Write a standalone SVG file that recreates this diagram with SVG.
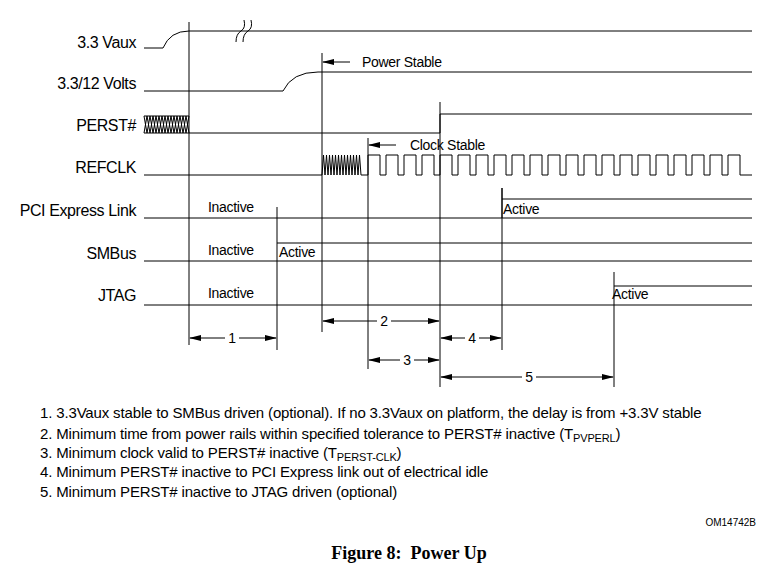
<svg xmlns="http://www.w3.org/2000/svg" width="761" height="573" viewBox="0 0 761 573">
<defs>
<marker id="ah" markerWidth="12" markerHeight="6" refX="11" refY="3" orient="auto-start-reverse" markerUnits="userSpaceOnUse"><path d="M0,0 L12,3 L0,6 Z" fill="#000"/></marker>
</defs>
<style>
.s{stroke:#000;stroke-width:1;fill:none}
.l{font-family:"Liberation Sans",Arial,sans-serif;font-size:16px;letter-spacing:-0.4px;text-anchor:end}
.t{font-family:"Liberation Sans",Arial,sans-serif;font-size:14px;letter-spacing:-0.3px}
.n{font-family:"Liberation Sans",Arial,sans-serif;font-size:15px;letter-spacing:-0.15px}
.a{stroke:#000;stroke-width:1;fill:none;marker-start:url(#ah);marker-end:url(#ah)}
</style>
<rect width="761" height="573" fill="#fff"/>
<g id="labels">
<text class="l" x="136" y="48">3.3 Vaux</text>
<text class="l" x="136" y="89">3.3/12 Volts</text>
<text class="l" x="136" y="131">PERST#</text>
<text class="l" x="136" y="173">REFCLK</text>
<text class="l" x="136" y="216">PCI Express Link</text>
<text class="l" x="136" y="259">SMBus</text>
<text class="l" x="136" y="301">JTAG</text>
</g>
<g id="signals">
<path class="s" d="M144,48 H163 Q170,31 189,31 H752"/>
<path class="s" d="M236,42 Q236,34 241,31 Q246,28 244,20 M243,42 Q243,34 248,31 Q253,28 251,20"/>
<path class="s" d="M144,91 H283 Q292,72 318,72 H752"/>
<path class="s" d="M144,133 H440 V114 H752 M144,116 H189"/>
<path class="s" stroke-width="0.7" d="M144,116 l3,17 l3,-17 l3,17 l3,-17 l3,17 l3,-17 l3,17 l3,-17 l3,17 l3,-17 l3,17 l3,-17 l3,17 l3,-17 l3,17 M144,133 l3,-17 l3,17 l3,-17 l3,17 l3,-17 l3,17 l3,-17 l3,17 l3,-17 l3,17 l3,-17 l3,17 l3,-17 l3,17 l3,-17"/>
<path class="s" d="M144,175 H322"/>
<path class="s" stroke-width="0.8" d="M322,175 l1.5,-20 l1.5,20 l1.5,-20 l1.5,20 l1.5,-20 l1.5,20 l1.5,-20 l1.5,20 l1.5,-20 l1.5,20 l1.5,-20 l1.5,20 l1.5,-20 l1.5,20 l1.5,-20 l1.5,20 l1.5,-20 l1.5,20 l1.5,-20 l1.5,20 l1.5,-20 l1.5,20 l1.5,-20 l1.5,20 l1.5,-20 l1.5,20 H368"/>
<path class="s" d="M368,175 v-20h12v20h6 v-20h12v20h6 v-20h12v20h6 v-20h12v20h6 v-20h12v20h6 v-20h12v20h6 v-20h12v20h6 v-20h12v20h6 v-20h12v20h6 v-20h12v20h6 v-20h12v20h6 v-20h12v20h6 v-20h12v20h6 v-20h12v20h6 v-20h12v20h6 v-20h12v20h6 v-20h12v20h6 v-20h12v20h6 v-20h12v20h6 v-20h12v20h6 v-20h12v20 H752"/>
<path class="s" d="M144,218 H752 M502,218 V188 M502,199 H752"/>
<path class="s" d="M144,261 H752 M277,243 H752"/>
<path class="s" d="M144,305 H752 M614,286 H752"/>
</g>
<g id="states">
<text class="t" x="208" y="212">Inactive</text>
<text class="t" x="503" y="214">Active</text>
<text class="t" x="208" y="255">Inactive</text>
<text class="t" x="279" y="257">Active</text>
<text class="t" x="208" y="298">Inactive</text>
<text class="t" x="612" y="299">Active</text>
</g>
<g id="connectors">
<path class="s" d="M189,22 V345 M322,53 V332 M440,102 V387 M368,138 V369 M277,207 V350 M502,188 V350 M614,272 V387"/>
<path class="s" d="M350,62 H323" marker-end="url(#ah)"/>
<path class="s" d="M396,145 H369" marker-end="url(#ah)"/>
<path class="a" d="M190,338 H276"/>
<path class="a" d="M323,321 H439"/>
<path class="a" d="M369,360 H439"/>
<path class="a" d="M441,338 H501"/>
<path class="a" d="M441,377 H613"/>
<rect x="225" y="330" width="14" height="16" fill="#fff"/>
<rect x="377" y="313" width="14" height="16" fill="#fff"/>
<rect x="400" y="352" width="14" height="16" fill="#fff"/>
<rect x="465" y="330" width="14" height="16" fill="#fff"/>
<rect x="522" y="369" width="14" height="16" fill="#fff"/>
<text class="t" x="232" y="343" text-anchor="middle">1</text>
<text class="t" x="384" y="326" text-anchor="middle">2</text>
<text class="t" x="407" y="365" text-anchor="middle">3</text>
<text class="t" x="472" y="343" text-anchor="middle">4</text>
<text class="t" x="529" y="382" text-anchor="middle">5</text>
<text class="t" x="362" y="67">Power Stable</text>
<text class="t" x="410" y="150">Clock Stable</text>
</g>
<g id="notes">
<text class="n" x="40" y="418">1. 3.3Vaux stable to SMBus driven (optional). If no 3.3Vaux on platform, the delay is from +3.3V stable</text>
<text class="n" x="40" y="439">2. Minimum time from power rails within specified tolerance to PERST# inactive (T<tspan font-size="11" dy="3">PVPERL</tspan><tspan dy="-3">)</tspan></text>
<text class="n" x="40" y="458">3. Minimum clock valid to PERST# inactive (T<tspan font-size="11" dy="3">PERST-CLK</tspan><tspan dy="-3">)</tspan></text>
<text class="n" x="40" y="477">4. Minimum PERST# inactive to PCI Express link out of electrical idle</text>
<text class="n" x="40" y="497">5. Minimum PERST# inactive to JTAG driven (optional)</text>
<text x="756" y="526" font-family="Liberation Sans,Arial,sans-serif" font-size="10" text-anchor="end">OM14742B</text>
<text x="409" y="559" font-family="Liberation Serif,Times New Roman,serif" font-size="18" font-weight="bold" text-anchor="middle" xml:space="preserve">Figure 8:  Power Up</text>
</g>
</svg>
